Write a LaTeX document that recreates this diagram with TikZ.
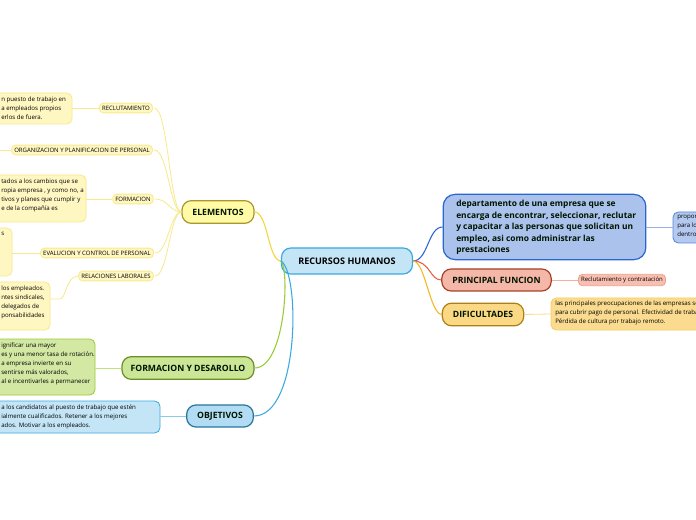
\documentclass[tikz,border=0pt]{standalone}
\usepackage{fontspec}
\setmainfont{Open Sans}
\begin{document}
\begin{tikzpicture}[x=0.75pt,y=-0.75pt,
 main/.style={draw=#1!70!black,line width=0.9pt,rounded corners=7pt,font=\fontsize{6.5}{8}\selectfont\bfseries,text=black!80!green!40!black},
 sub/.style={draw=#1,line width=0.6pt,rounded corners=3pt,font=\fontsize{4.5}{5.5}\selectfont,inner sep=2pt},
 det/.style={font=\fontsize{4.6}{6.6}\selectfont,align=left,anchor=north west,inner sep=0pt},
 ln/.style={line width=0.8pt}]
\clip (0,0) rectangle (696,520);
\fill[white] (0,0) rectangle (696,520);
\definecolor{ye}{HTML}{F3D63C}\definecolor{yl}{HTML}{F8E98A}\definecolor{yf}{HTML}{FFF7C2}
\definecolor{gr}{HTML}{9ACD32}\definecolor{bl}{HTML}{3BA8E0}\definecolor{db}{HTML}{2A66D0}
\definecolor{rd}{HTML}{E8603C}\definecolor{or}{HTML}{F5B820}
% center
\node[draw=bl,fill=bl!30,line width=0.9pt,rounded corners=7pt,minimum width=131pt*0.75,minimum height=26*0.75pt,font=\fontsize{6.8}{8}\selectfont\bfseries] (c) at (347,261) {RECURSOS HUMANOS};
% main left
\node[main=ye,fill=yellow!35,minimum width=54pt,minimum height=17pt] (el) at (218,212) {ELEMENTOS};
\node[main=gr,fill=gr!50,minimum width=99pt,minimum height=17pt] (fd) at (188,368) {FORMACION Y DESAROLLO};
\node[main=bl,fill=bl!40,minimum width=50pt,minimum height=16.5pt] (ob) at (220,416) {OBJETIVOS};
% main right
\node[draw=db,fill=db!40,line width=0.9pt,rounded corners=9pt,minimum width=152pt,minimum height=49pt] (dp) at (544.5,227) {};
\node[det,font=\fontsize{6.3}{8.6}\selectfont\bfseries,text=black!80!green!40!black] at (456,200) {departamento de una empresa que se\\encarga de encontrar, seleccionar, reclutar\\y capacitar a las personas que solicitan un\\empleo, asi como administrar las\\prestaciones};
\node[main=rd,fill=rd!45,minimum width=82pt,minimum height=16.5pt] (pf) at (496.5,280) {PRINCIPAL FUNCION};
\node[main=or,fill=or!55,minimum width=61pt,minimum height=17pt] (df) at (483,314.5) {DIFICULTADES};
% connectors main
\draw[ln,ye] (c.west) .. controls (268,261) and (268,212) .. (el.east);
\draw[ln,gr] (c.west) .. controls (290,270) and (285,368) .. (fd.east);
\draw[ln,bl] (c.west) .. controls (300,272) and (300,416) .. (ob.east);
\draw[ln,db] (c.east) .. controls (428,261) and (428,227) .. (dp.west);
\draw[ln,rd] (c.east) .. controls (430,261) and (430,280) .. (pf.west);
\draw[ln,or] (c.east) .. controls (425,261) and (430,314) .. (df.west);
% sub nodes
\node[sub=yl,fill=yf] (s1) at (126,108) {RECLUTAMIENTO};
\node[sub=yl,fill=yf] (s2) at (82,150) {ORGANIZACION Y PLANIFICACION DE PERSONAL};
\node[sub=yl,fill=yf] (s3) at (133,199) {FORMACION};
\node[sub=yl,fill=yf] (s4) at (97,253) {EVALUCION Y CONTROL DE PERSONAL};
\node[sub=yl,fill=yf] (s5) at (116,276) {RELACIONES LABORALES};
\foreach \s in {s1,s2,s3,s4,s5}
 \draw[yl,line width=0.6pt] (el.west) .. controls (170,212) and (168,0|-\s.east) .. ([xshift=1pt]\s.east);
% detail boxes
\tikzset{dbox/.style={draw=#1,line width=0.6pt,rounded corners=4pt}}
\draw[dbox=yl,fill=yf] (-20,93) rectangle (72,124); \draw[yl,line width=0.6pt] (72,108)--(s1.west);
\node[det] at (1,97) {n puesto de trabajo en\\a empleados propios\\erlos de fuera.};
\draw[yl,line width=0.6pt] (0,150)--(s2.west);
\draw[dbox=yl,fill=yf] (-20,175) rectangle (86,222); \draw[yl,line width=0.6pt] (86,199)--(s3.west);
\node[det] at (1,179) {tados a los cambios que se\\ropia empresa , y como no, a\\tivos y planes que cumplir y\\e de la compañía es};
\draw[dbox=yl,fill=yf] (-20,228) rectangle (12,276); \draw[yl,line width=0.6pt] (12,253)--(s4.west);
\node[det] at (1,232) {s};
\draw[dbox=yl,fill=yf] (-20,282) rectangle (50,330); \draw[yl,line width=0.6pt] (50,299) -- (60,299) .. controls (66,299) and (66,276) .. (s5.west);
\node[det] at (1,286) {los empleados.\\ntes sindicales,\\delegados de\\ponsabilidades};
\draw[dbox=gr,fill=gr!45] (-20,339) rectangle (95,395); \draw[gr!60,line width=0.6pt] (95,368)--(fd.west);
\node[det] at (1,343) {ignificar una mayor\\es y una menor tasa de rotación.\\a empresa invierte en su\\sentirse más valorados,\\al e incentivarles a permanecer};
\draw[dbox=bl,fill=bl!30] (-20,401) rectangle (160,433); \draw[bl!60,line width=0.6pt] (160,416)--(ob.west);
\node[det] at (1,405) {a los candidatos al puesto de trabajo que estén\\ialmente cualificados. Retener a los mejores\\ados. Motivar a los empleados.};
\draw[dbox=db!80,fill=db!35] (673,212) rectangle (720,243); \draw[db!50,line width=0.6pt] (dp.east)--(673,227);
\node[det] at (677,215) {propor\\para lo\\dentro};
\node[sub=rd!60,fill=rd!40] (pd) at (622,280) {Reclutamiento y contratación}; \draw[rd!50,line width=0.6pt] (pf.east)--(pd.west);
\draw[dbox=or!70,fill=or!50] (551,298) rectangle (720,330); \draw[or!50,line width=0.6pt] (df.east)--(551,314);
\node[det] at (555,301) {las principales preocupaciones de las empresas so\\para cubrir pago de personal. Efectividad de trabaj\\Pérdida de cultura por trabajo remoto.};
\end{tikzpicture}
\end{document}
